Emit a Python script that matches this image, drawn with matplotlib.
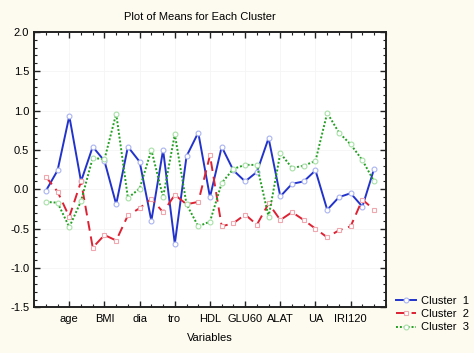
import numpy as np
import matplotlib
matplotlib.use('Agg')
import matplotlib.pyplot as plt
from matplotlib.ticker import MultipleLocator

plt.rcParams['font.family'] = ['Liberation Sans', 'DejaVu Sans']

# 29 variables, only every third one labelled in the original
labelPositions = [3, 6, 9, 12, 15, 18, 21, 24, 27]
labelNames = ['age', 'BMI', 'dia', 'tro', 'HDL', 'GLU60', 'ALAT', 'UA', 'IRI120']

cluster1 = [-0.02, 0.24, 0.93, 0.10, 0.54, 0.36, -0.19, 0.54, 0.35, -0.40,
            0.50, -0.69, 0.42, 0.72, -0.10, 0.54, 0.24, 0.10, 0.22, 0.65,
            -0.09, 0.07, 0.10, 0.24, -0.26, -0.10, -0.05, -0.22, 0.26]
cluster2 = [0.16, -0.03, -0.35, 0.10, -0.74, -0.58, -0.65, -0.33, -0.24, -0.12,
            -0.29, -0.07, -0.19, -0.16, 0.43, -0.47, -0.43, -0.32, -0.45, -0.18,
            -0.39, -0.29, -0.39, -0.50, -0.61, -0.52, -0.47, -0.13, -0.26]
cluster3 = [-0.16, -0.17, -0.48, -0.15, 0.40, 0.38, 0.96, -0.11, 0.01, 0.50,
            -0.10, 0.70, -0.19, -0.47, -0.41, 0.08, 0.26, 0.31, 0.31, -0.35,
            0.46, 0.27, 0.30, 0.36, 0.97, 0.72, 0.57, 0.37, 0.10]

xs = np.arange(1, len(cluster1) + 1)

fig = plt.figure(figsize=(4.74, 3.53), dpi=100, facecolor='#fdfbef')
ax = fig.add_axes([0.072, 0.129, 0.742, 0.781])
ax.set_facecolor('white')

ax.plot(xs, cluster1, color='#2233cc', lw=1.4, ls='-', marker='o', ms=3.5,
        mfc='white', mec='#aab4f0', mew=0.8, label='Cluster  1')
ax.plot(xs, cluster2, color='#dd2233', lw=1.4, ls=(0, (5, 3)), marker='s', ms=3.2,
        mfc='white', mec='#f0a8b0', mew=0.8, label='Cluster  2')
ax.plot(xs, cluster3, color='#22a022', lw=1.4, ls=(0, (1, 1)), marker='o', ms=3.5,
        mfc='white', mec='#a8e0a8', mew=0.8, label='Cluster  3')

ax.set_xlim(0, 30)
ax.set_ylim(-1.5, 2.0)
ax.set_xticks(labelPositions)
ax.set_xticklabels(labelNames)
ax.xaxis.set_minor_locator(MultipleLocator(1))
ax.yaxis.set_major_locator(MultipleLocator(0.5))
ax.yaxis.set_minor_locator(MultipleLocator(0.1))
ax.yaxis.set_major_formatter(matplotlib.ticker.FormatStrFormatter('%.1f'))
ax.tick_params(which='both', direction='in', top=True, right=True, labelsize=8, color='#222222')
ax.tick_params(which='major', length=4, width=1)
ax.tick_params(which='minor', length=2.5, width=0.8)
ax.tick_params(axis='x', pad=5)
ax.grid(True, which='major', color='#f5f5f5', lw=0.6)
for s in ax.spines.values():
    s.set_linewidth(1.4)
    s.set_color('#222222')

fig.text(0.422, 0.952, 'Plot of Means for Each Cluster', ha='center', va='center', fontsize=8)
fig.text(0.443, 0.043, 'Variables', ha='center', va='center', fontsize=8)

fig.legend(loc='lower left', bbox_to_anchor=(0.815, 0.03), frameon=False, fontsize=8,
           handlelength=1.8, handletextpad=0.4, labelspacing=0.3)

fig.savefig('out.png', dpi=100, facecolor=fig.get_facecolor())
